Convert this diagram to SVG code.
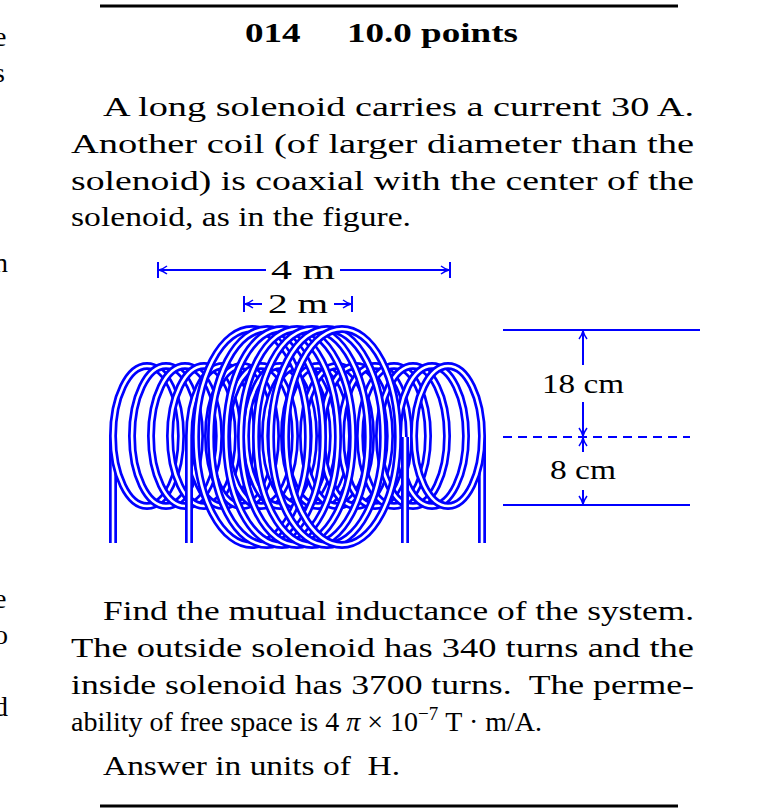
<svg xmlns="http://www.w3.org/2000/svg" width="778" height="812" viewBox="0 0 778 812">
<style>
text{font-family:"Liberation Serif","DejaVu Serif",serif;font-size:28px;fill:#000;white-space:pre}
.b{stroke:#0000ff;stroke-width:8;fill:none}
.w{stroke:#fff;stroke-width:2.6;fill:none}
.d{stroke:#0000ff;stroke-width:2;fill:none}
</style>
<defs>
<marker id="a" markerWidth="10" markerHeight="10" refX="9" refY="5" orient="auto" markerUnits="userSpaceOnUse"><path d="M1,1 Q5,4 9,5 Q5,6 1,9" stroke="#0000ff" stroke-width="1.5" fill="none"/></marker>
<g id="il"><ellipse rx="34" ry="70" class="b"/><ellipse rx="34" ry="70" class="w"/></g>
<g id="ol"><ellipse rx="56" ry="108" class="b"/><ellipse rx="56" ry="108" class="w"/></g>
</defs>
<line x1="100" y1="6" x2="678" y2="6" stroke="#000" stroke-width="3"/>
<line x1="100" y1="806" x2="678" y2="806" stroke="#000" stroke-width="3"/>
<text x="-6" y="46">e</text><text x="-6" y="82">s</text><text x="-6" y="272">n</text>
<text x="-6" y="608">e</text><text x="-6" y="644">o</text><text x="-6" y="716">d</text>
<text x="245" y="42" font-weight="bold" textLength="273" lengthAdjust="spacingAndGlyphs">014     10.0 points</text>
<g id="para1">
<text x="103" y="116" textLength="591" lengthAdjust="spacingAndGlyphs">A long solenoid carries a current 30 A.</text>
<text x="71" y="153" textLength="623" lengthAdjust="spacingAndGlyphs">Another coil (of larger diameter than the</text>
<text x="71" y="190" textLength="623" lengthAdjust="spacingAndGlyphs">solenoid) is coaxial with the center of the</text>
<text x="71" y="226" textLength="340" lengthAdjust="spacingAndGlyphs">solenoid, as in the figure.</text>
</g>
<g id="coil">
<g id="inner">
<path class="b" d="M113,543V436M482,543V436"/><path class="w" d="M113,543V436M482,543V436"/>
<use href="#il" x="147" y="436"/><use href="#il" x="166" y="436"/><use href="#il" x="185" y="436"/><use href="#il" x="204" y="436"/><use href="#il" x="223" y="436"/><use href="#il" x="242" y="436"/><use href="#il" x="261" y="436"/><use href="#il" x="280" y="436"/><use href="#il" x="299" y="436"/><use href="#il" x="318" y="436"/><use href="#il" x="337" y="436"/><use href="#il" x="356" y="436"/><use href="#il" x="375" y="436"/><use href="#il" x="394" y="436"/><use href="#il" x="413" y="436"/><use href="#il" x="432" y="436"/><use href="#il" x="448" y="436"/>
</g>
<g id="outer">
<path class="b" d="M189,543V437M405,543V437"/><path class="w" d="M189,543V437M405,543V437"/>
<use href="#ol" x="252" y="437"/><use href="#ol" x="267" y="437"/><use href="#ol" x="282" y="437"/><use href="#ol" x="297" y="437"/><use href="#ol" x="312" y="437"/><use href="#ol" x="327" y="437"/><use href="#ol" x="342" y="437"/>
</g>
</g>
<g id="connectors">
<path class="d" d="M158,262V278M450,262V278M244,296V312M352,296V312"/>
<line class="d" x1="266" y1="270" x2="159" y2="270" marker-end="url(#a)"/>
<line class="d" x1="340" y1="270" x2="449" y2="270" marker-end="url(#a)"/>
<line class="d" x1="262" y1="304" x2="245" y2="304" marker-end="url(#a)"/>
<line class="d" x1="334" y1="304" x2="351" y2="304" marker-end="url(#a)"/>
<line class="d" x1="503" y1="330" x2="700" y2="330"/>
<line class="d" x1="503" y1="437" x2="690" y2="437" stroke-dasharray="9,6"/>
<line class="d" x1="503" y1="505" x2="690" y2="505"/>
<line class="d" x1="583" y1="365" x2="583" y2="331" marker-end="url(#a)"/>
<line class="d" x1="583" y1="402" x2="583" y2="436" marker-end="url(#a)"/>
<line class="d" x1="583" y1="452" x2="583" y2="438" marker-end="url(#a)"/>
<line class="d" x1="583" y1="490" x2="583" y2="504" marker-end="url(#a)"/>
</g>
<text x="271" y="279" textLength="64" lengthAdjust="spacingAndGlyphs">4 m</text>
<text x="268" y="313" textLength="60" lengthAdjust="spacingAndGlyphs">2 m</text>
<text x="542" y="393" textLength="82" lengthAdjust="spacingAndGlyphs">18 cm</text>
<text x="550" y="479" textLength="66" lengthAdjust="spacingAndGlyphs">8 cm</text>
<g id="para2">
<text x="103" y="620" textLength="591" lengthAdjust="spacingAndGlyphs">Find the mutual inductance of the system.</text>
<text x="71" y="657" textLength="623" lengthAdjust="spacingAndGlyphs">The outside solenoid has 340 turns and the</text>
<text x="71" y="694" textLength="623" lengthAdjust="spacingAndGlyphs">inside solenoid has 3700 turns.  The perme-</text>
<text x="71" y="731">ability of free space is 4 <tspan font-style="italic">π</tspan> × 10<tspan font-size="19" dy="-11">−7</tspan><tspan dy="11"> T · m/A.</tspan></text>
<text x="103" y="775" textLength="297" lengthAdjust="spacingAndGlyphs">Answer in units of  H.</text>
</g>
</svg>
